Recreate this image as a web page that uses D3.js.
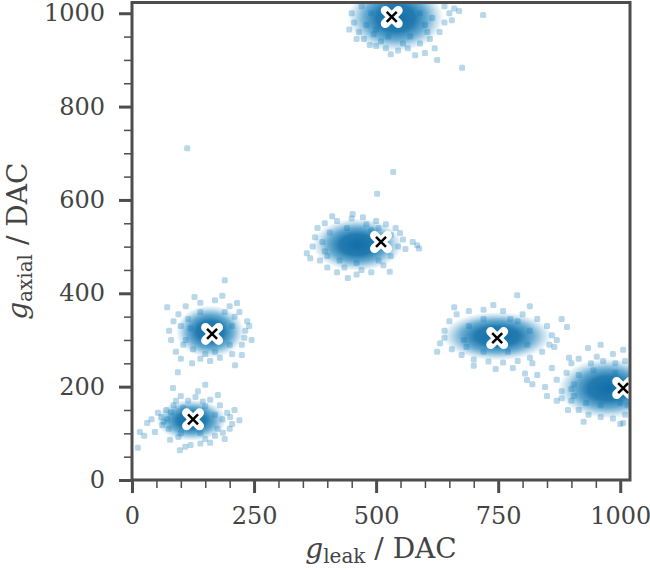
<!DOCTYPE html>
<html>
<head>
<meta charset="utf-8">
<title>g_axial vs g_leak</title>
<style>
  body { margin: 0; background: #fff; }
  text { font-family: "DejaVu Serif", serif; fill: #444; }
</style>
</head>
<body>
<script src="https://d3js.org/d3.v7.min.js"></script>
<script>
// cluster centres (white/black crosses)
var centerX = [125, 164, 510, 532, 748, 1006];
var centerY = [130, 313, 510, 992, 304, 197];

// dense core of each cluster (data units)
var coreX  = [122, 160, 462, 540, 748, 975];
var coreY  = [128, 318, 504, 990, 308, 196];
var coreRx = [72, 70, 92, 98, 112, 102];
var coreRy = [44, 56, 56, 72, 52, 64];

// scattered samples around the cores
var clusterA = [[12,69],[16,103],[31,122],[47,103],[53,144],[78,86],[84,197],[109,71],[150,204],[176,182],
  [195,144],[201,135],[186,101],[62,118],[70,150],[90,170],[100,180],[130,178],[160,172],[180,160],
  [205,120],[190,88],[160,80],[140,78],[120,75],[95,92],[72,130],[60,135],[210,150],[170,95],
  [150,88],[85,160],[115,170],[145,168],[200,110],[40,130],[25,95],[98,64],[220,128],[135,190],
  [75,110],[80,145],[105,155],[150,158],[170,140],[175,110],[140,100],[100,100],[65,125],[185,130]];
var clusterB = [[190,428],[72,370],[94,231],[123,250],[211,246],[215,379],[85,340],[80,300],[90,275],[100,260],
  [140,260],[180,262],[205,270],[225,290],[232,320],[236,340],[220,360],[200,372],[170,385],[140,380],
  [110,372],[95,355],[100,330],[230,305],[150,270],[240,330],[76,320],[128,392],[185,395],[210,350],
  [105,290],[160,255],[225,268],[245,300],
  [110,300],[115,345],[140,360],[190,360],[205,330],[200,290],[170,275],[125,280],[120,325]];
var clusterC = [[584,503],[588,496],[358,486],[442,433],[473,563],[549,529],[528,446],[380,540],[375,520],[370,500],
  [385,470],[400,455],[420,445],[460,440],[490,445],[515,460],[530,480],[545,500],[555,515],[540,540],
  [520,548],[500,555],[450,560],[420,555],[395,550],[410,565],[365,475],[560,495],[470,450],[435,455],
  [505,540],[530,525],[395,490],[480,548],[575,510],[452,570],
  [400,480],[405,530],[440,540],[490,535],[520,510],[505,470],[460,465],[425,470],[390,510]];
var clusterD = [[719,996],[676,883],[625,900],[487,932],[450,1000],[455,980],[465,960],[475,945],[500,930],[520,925],
  [545,920],[565,925],[590,935],[610,945],[630,960],[640,980],[650,1000],[660,1010],[600,915],[580,910],
  [470,1015],[640,1015],[510,940],[555,935],[620,925],[460,945],[655,985],[530,912],[495,955],[605,960],
  [670,1005],[445,965],
  [480,975],[490,1000],[590,1000],[600,975],[570,950],[525,950],[500,965],[615,990]];
var clusterE = [[789,396],[891,328],[631,293],[640,320],[650,340],[665,355],[690,362],[720,365],[760,362],[800,355],
  [830,345],[850,330],[860,310],[855,290],[840,275],[815,262],[790,255],[760,252],[730,254],[700,258],
  [675,268],[655,280],[640,305],[870,300],[880,345],[700,245],[780,240],[745,238],[815,372],[660,370],
  [625,275],[820,250],[740,375],[865,285],[775,345],[805,228],
  [680,300],[690,330],[720,345],[790,340],[815,320],[810,290],[770,275],[720,275],[685,285]];
var clusterF = [[809,214],[860,240],[934,283],[952,264],[1006,279],[846,199],[893,150],[1006,122],[830,225],[870,215],
  [880,190],[890,230],[900,250],[915,260],[940,250],[965,255],[990,250],[1010,255],[900,170],[915,150],
  [935,140],[960,135],[985,132],[1010,140],[1015,160],[880,175],[905,205],[870,170],[985,270],[1000,120],
  [925,125],[960,290],[850,180],[820,205],[895,262],
  [900,195],[915,225],[945,235],[990,230],[960,160],[930,165],[905,180],[1000,165]];
var outliers = [[113,711],[502,613],[535,660]];

var xTicks = [0, 250, 500, 750, 1000];
var yTicks = [0, 200, 400, 600, 800, 1000];

var width = 650, height = 573;
var pLeft = 132, pRight = 630, pTop = 2.5, pBottom = 480;
var blue = "#0173b2", ink = "#4d4d4d";

var x = d3.scaleLinear().domain([0, 1020]).range([pLeft, pRight]);
var y = d3.scaleLinear().domain([0, 1023]).range([pBottom, pTop]);

var svg = d3.select("body").append("svg")
    .attr("width", width)
    .attr("height", height);

var defs = svg.append("defs");
defs.append("clipPath").attr("id", "plot")
  .append("rect")
    .attr("x", pLeft).attr("y", pTop)
    .attr("width", pRight - pLeft).attr("height", pBottom - pTop);
var grad = defs.append("radialGradient").attr("id", "core");
grad.append("stop").attr("offset", "0%").attr("stop-color", "#0a6aa5").attr("stop-opacity", 0.97);
grad.append("stop").attr("offset", "40%").attr("stop-color", "#0b6ca7").attr("stop-opacity", 0.9);
grad.append("stop").attr("offset", "65%").attr("stop-color", blue).attr("stop-opacity", 0.6);
grad.append("stop").attr("offset", "85%").attr("stop-color", blue).attr("stop-opacity", 0.22);
grad.append("stop").attr("offset", "100%").attr("stop-color", blue).attr("stop-opacity", 0);

var plot = svg.append("g").attr("clip-path", "url(#plot)");

// dense cores
plot.selectAll("ellipse.core")
  .data(coreX)
  .enter()
  .append("ellipse")
    .attr("class", "core")
    .attr("cx", function(d) { return x(d); })
    .attr("cy", function(d, i) { return y(coreY[i]); })
    .attr("rx", function(d, i) { return x(coreRx[i]) - x(0); })
    .attr("ry", function(d, i) { return y(0) - y(coreRy[i]); })
    .attr("fill", "url(#core)");

var samples = [].concat(clusterA, clusterB, clusterC, clusterD, clusterE, clusterF, outliers);
plot.selectAll("rect.pt")
  .data(samples)
  .enter()
  .append("rect")
    .attr("class", "pt")
    .attr("x", function(d) { return x(d[0]) - 3; })
    .attr("y", function(d) { return y(d[1]) - 3; })
    .attr("width", 6)
    .attr("height", 6)
    .attr("rx", 1.5)
    .attr("fill", blue)
    .attr("fill-opacity", 0.28);

// centre markers
var m = plot.selectAll("g.centre")
  .data(centerX)
  .enter()
  .append("g")
    .attr("class", "centre")
    .attr("transform", function(d, i) {
        return "translate(" + x(d) + "," + y(centerY[i]) + ")";
    });
m.append("path")
    .attr("d", "M-6.5,-6.5L6.5,6.5M-6.5,6.5L6.5,-6.5")
    .attr("stroke", "#fff")
    .attr("stroke-width", 9)
    .attr("stroke-linecap", "round");
m.append("path")
    .attr("d", "M-5,-5L5,5M-5,5L5,-5")
    .attr("stroke", "#000")
    .attr("stroke-width", 2.5);

// axes
var xMinor = d3.range(0, 1001, 50).filter(function(v) { return v % 250 !== 0; });
var yMinor = d3.range(0, 1001, 50).filter(function(v) { return v % 200 !== 0; });
var fmt = d3.format("d");

function styleAxis(g, w) {
    g.select(".domain").remove();
    g.selectAll(".tick line").attr("stroke", ink).attr("stroke-width", w);
    g.selectAll(".tick text").attr("font-size", 24).attr("fill", "#444")
      .attr("font-family", "DejaVu Serif, serif");
}

svg.append("g")
    .attr("transform", "translate(0," + pBottom + ")")
    .call(d3.axisBottom(x).tickValues(xMinor).tickSize(8).tickFormat(""))
    .call(styleAxis, 1.5);
svg.append("g")
    .attr("transform", "translate(0," + pBottom + ")")
    .call(d3.axisBottom(x).tickValues(xTicks).tickSize(13).tickPadding(14).tickFormat(fmt))
    .call(styleAxis, 3);

svg.append("g")
    .attr("transform", "translate(" + pLeft + ",0)")
    .call(d3.axisLeft(y).tickValues(yMinor).tickSize(8).tickFormat(""))
    .call(styleAxis, 1.5);
svg.append("g")
    .attr("transform", "translate(" + pLeft + ",0)")
    .call(d3.axisLeft(y).tickValues(yTicks).tickSize(13).tickPadding(14).tickFormat(fmt))
    .call(styleAxis, 3);

// spines
svg.append("rect")
    .attr("x", pLeft).attr("y", pTop)
    .attr("width", pRight - pLeft).attr("height", pBottom - pTop)
    .attr("fill", "none")
    .attr("stroke", ink)
    .attr("stroke-width", 3);

// axis labels
var xl = svg.append("text")
    .attr("x", (pLeft + pRight) / 2)
    .attr("y", 558)
    .attr("text-anchor", "middle")
    .attr("font-size", 28);
xl.append("tspan").attr("font-style", "italic").text("g");
xl.append("tspan").attr("font-size", 20).attr("dy", 5).text("leak");
xl.append("tspan").attr("dy", -5).text(" / DAC");

var yl = svg.append("text")
    .attr("transform", "translate(27," + (pTop + pBottom) / 2 + ") rotate(-90)")
    .attr("text-anchor", "middle")
    .attr("font-size", 28);
yl.append("tspan").attr("font-style", "italic").text("g");
yl.append("tspan").attr("font-size", 20).attr("dy", 5).text("axial");
yl.append("tspan").attr("dy", -5).text(" / DAC");
</script>
</body>
</html>
